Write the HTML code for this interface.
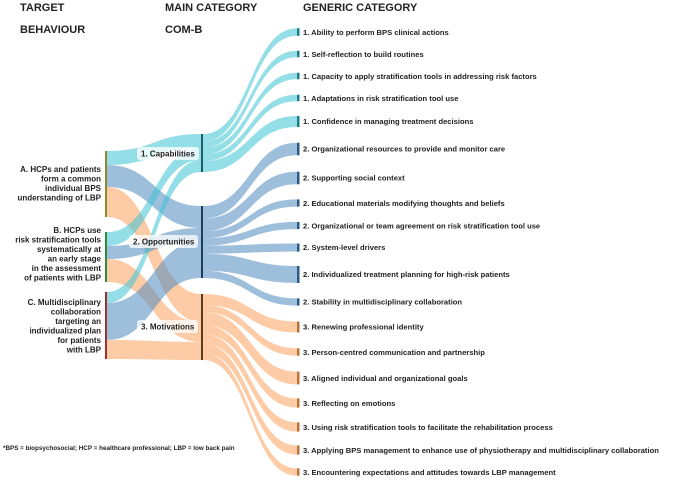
<!DOCTYPE html>
<html><head><meta charset="utf-8"><style>
html,body{margin:0;padding:0;background:#fff}
svg{display:block}
text{font-family:"Liberation Sans",Arial,sans-serif;font-weight:bold;fill:#222}
</style></head><body>
<svg width="685" height="480" viewBox="0 0 685 480">
<g font-size="11">
<text x="20" y="11">TARGET</text><text x="20" y="33">BEHAVIOUR</text>
<text x="165" y="11">MAIN CATEGORY</text><text x="165" y="33">COM-B</text>
<text x="303" y="11">GENERIC CATEGORY</text>
</g>
<!-- left flows -->
<g fill-opacity="0.55">
<path fill="#fca35e" d="M107,187 C154,187 154,294 201,294 L201,322 C154,322 154,217 107,217Z"/>
<path fill="#fca35e" d="M107,259 C154,259 154,322 201,322 L201,342 C154,342 154,282 107,282Z"/>
<path fill="#fca35e" d="M107,340 C154,340 154,342 201,342 L201,360 C154,360 154,359 107,359Z"/>
<path fill="#4f8bc0" d="M107,165 C154,165 154,206 201,206 L201,228 C154,228 154,187 107,187Z"/>
<path fill="#4f8bc0" d="M107,246 C154,246 154,228 201,228 L201,241 C154,241 154,259 107,259Z"/>
<path fill="#4f8bc0" d="M107,303 C154,303 154,241 201,241 L201,278 C154,278 154,340 107,340Z"/>
<path fill="#3cc3d3" d="M107,151 C154,151 154,134 201,134 L201,148 C154,148 154,165 107,165Z"/>
<path fill="#3cc3d3" d="M107,232 C154,232 154,148 201,148 L201,160 C154,160 154,246 107,246Z"/>
<path fill="#3cc3d3" d="M107,292 C154,292 154,160 201,160 L201,172 C154,172 154,303 107,303Z"/>
</g>
<!-- right flows -->
<g fill-opacity="0.55">
<g fill="#3cc3d3">
<path d="M203,134 C250,134 250,28.2 297,28.2 L297,35.8 C250,35.8 250,141.6 203,141.6Z"/>
<path d="M203,141.6 C250,141.6 250,50.75 297,50.75 L297,57.25 C250,57.25 250,148.1 203,148.1Z"/>
<path d="M203,148.1 C250,148.1 250,72.75 297,72.75 L297,79.25 C250,79.25 250,154.6 203,154.6Z"/>
<path d="M203,154.6 C250,154.6 250,94.75 297,94.75 L297,101.25 C250,101.25 250,161.1 203,161.1Z"/>
<path d="M203,161.1 C250,161.1 250,116 297,116 L297,127 C250,127 250,172 203,172Z"/>
</g>
<g fill="#4f8bc0">
<path d="M203,206 C250,206 250,142.7 297,142.7 L297,155.3 C250,155.3 250,218.6 203,218.6Z"/>
<path d="M203,218.6 C250,218.6 250,171.7 297,171.7 L297,184.3 C250,184.3 250,231.2 203,231.2Z"/>
<path d="M203,231.2 C250,231.2 250,199.4 297,199.4 L297,206.6 C250,206.6 250,238.4 203,238.4Z"/>
<path d="M203,238.4 C250,238.4 250,221.9 297,221.9 L297,229.1 C250,229.1 250,245.6 203,245.6Z"/>
<path d="M203,245.6 C250,245.6 250,243.5 297,243.5 L297,251.6 C250,251.6 250,253.7 203,253.7Z"/>
<path d="M203,253.7 C250,253.7 250,266 297,266 L297,283 C250,283 250,270.8 203,270.8Z"/>
<path d="M203,270.8 C250,270.8 250,298.4 297,298.4 L297,305.6 C250,305.6 250,278 203,278Z"/>
</g>
<g fill="#fca35e">
<path d="M203,294 C250,294 250,321.5 297,321.5 L297,332.5 C250,332.5 250,305 203,305Z"/>
<path d="M203,305 C250,305 250,348.3 297,348.3 L297,355.7 C250,355.7 250,312.3 203,312.3Z"/>
<path d="M203,312.3 C250,312.3 250,371.6 297,371.6 L297,384.4 C250,384.4 250,325.1 203,325.1Z"/>
<path d="M203,325.1 C250,325.1 250,398.4 297,398.4 L297,407.6 C250,407.6 250,334.3 203,334.3Z"/>
<path d="M203,334.3 C250,334.3 250,422.4 297,422.4 L297,431.6 C250,431.6 250,343.5 203,343.5Z"/>
<path d="M203,343.5 C250,343.5 250,445.4 297,445.4 L297,454.6 C250,454.6 250,352.7 203,352.7Z"/>
<path d="M203,352.7 C250,352.7 250,468.3 297,468.3 L297,475.7 C250,475.7 250,360 203,360Z"/>
</g>
</g>
<!-- node bars -->
<rect x="105" y="151" width="2" height="66" fill="#8a8a2a"/>
<rect x="105" y="232" width="2" height="50" fill="#2e8b3e"/>
<rect x="105" y="292" width="2" height="67" fill="#a03030"/>
<rect x="201" y="134" width="2" height="38" fill="#1d5e66"/>
<rect x="201" y="206" width="2" height="72" fill="#1d3e5e"/>
<rect x="201" y="294" width="2" height="66" fill="#5e3a1d"/>
<g fill="#1d7e88">
<rect x="297" y="28.2" width="2.5" height="7.6"/><rect x="297" y="50.75" width="2.5" height="6.5"/><rect x="297" y="72.75" width="2.5" height="6.5"/><rect x="297" y="94.75" width="2.5" height="6.5"/><rect x="297" y="116" width="2.5" height="11"/>
</g>
<g fill="#2a5a86">
<rect x="297" y="142.7" width="2.5" height="12.6"/><rect x="297" y="171.7" width="2.5" height="12.6"/><rect x="297" y="199.4" width="2.5" height="7.2"/><rect x="297" y="221.9" width="2.5" height="7.2"/><rect x="297" y="243.5" width="2.5" height="8.1"/><rect x="297" y="266" width="2.5" height="17"/><rect x="297" y="298.4" width="2.5" height="7.2"/>
</g>
<g fill="#b8743a">
<rect x="297" y="321.5" width="2.5" height="11"/><rect x="297" y="348.3" width="2.5" height="7.4"/><rect x="297" y="371.6" width="2.5" height="12.8"/><rect x="297" y="398.4" width="2.5" height="9.2"/><rect x="297" y="422.4" width="2.5" height="9.2"/><rect x="297" y="445.4" width="2.5" height="9.2"/><rect x="297" y="468.3" width="2.5" height="7.4"/>
</g>
<!-- mid labels -->
<g fill="#fff" fill-opacity="0.75">
<rect x="137" y="147" width="62" height="13" rx="3"/>
<rect x="129" y="235" width="69" height="13" rx="3"/>
<rect x="137" y="320" width="61" height="13" rx="3"/>
</g>
<g font-size="8">
<text x="141" y="156.5">1. Capabilities</text>
<text x="133" y="244.5">2. Opportunities</text>
<text x="141" y="329.5">3. Motivations</text>
</g>
<!-- left labels -->
<g font-size="8" text-anchor="end">
<text x="101" y="172">A. HCPs and patients</text>
<text x="101" y="181.5">form a common</text>
<text x="101" y="191">individual BPS</text>
<text x="101" y="200.5">understanding of LBP</text>
<text x="101" y="233">B. HCPs use</text>
<text x="101" y="242.5">risk stratification tools</text>
<text x="101" y="252">systematically at</text>
<text x="101" y="261.5">an early stage</text>
<text x="101" y="271">in the assessment</text>
<text x="101" y="280.5">of patients with LBP</text>
<text x="101" y="305">C. Multidisciplinary</text>
<text x="101" y="314.5">collaboration</text>
<text x="101" y="324">targeting an</text>
<text x="101" y="333.5">individualized plan</text>
<text x="101" y="343">for patients</text>
<text x="101" y="352.5">with LBP</text>
</g>
<!-- right labels -->
<g font-size="7.6">
<text x="303" y="35">1. Ability to perform BPS clinical actions</text>
<text x="303" y="57">1. Self-reflection to build routines</text>
<text x="303" y="79">1. Capacity to apply stratification tools in addressing risk factors</text>
<text x="303" y="101">1. Adaptations in risk stratification tool use</text>
<text x="303" y="124">1. Confidence in managing treatment decisions</text>
<text x="303" y="151.5">2. Organizational resources to provide and monitor care</text>
<text x="303" y="180.5">2. Supporting social context</text>
<text x="303" y="206">2. Educational materials modifying thoughts and beliefs</text>
<text x="303" y="228.5">2. Organizational or team agreement on risk stratification tool use</text>
<text x="303" y="250">2. System-level drivers</text>
<text x="303" y="277">2. Individualized treatment planning for high-risk patients</text>
<text x="303" y="304.5">2. Stability in multidisciplinary collaboration</text>
<text x="303" y="329.5">3. Renewing professional identity</text>
<text x="303" y="355">3. Person-centred communication and partnership</text>
<text x="303" y="381">3. Aligned individual and organizational goals</text>
<text x="303" y="406">3. Reflecting on emotions</text>
<text x="303" y="430">3. Using risk stratification tools to facilitate the rehabilitation process</text>
<text x="303" y="453">3. Applying BPS management to enhance use of physiotherapy and multidisciplinary collaboration</text>
<text x="303" y="475">3. Encountering expectations and attitudes towards LBP management</text>
</g>
<text x="3" y="450" font-size="6.3">*BPS = biopsychosocial; HCP = healthcare professional; LBP = low back pain</text>
</svg>
</body></html>
